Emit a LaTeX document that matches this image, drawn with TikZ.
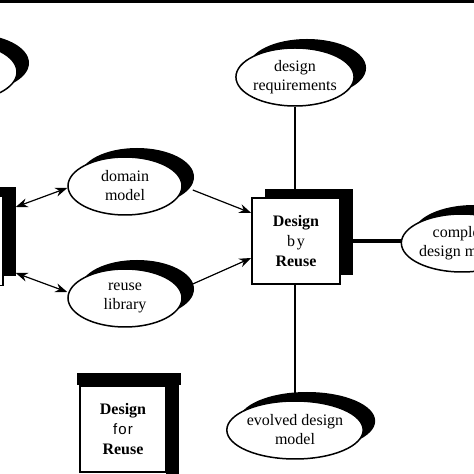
\documentclass[tikz,border=0pt]{standalone}
\usepackage{fontspec}
\setmainfont{Liberation Serif}
\setsansfont{Liberation Sans}
\usetikzlibrary{shapes.geometric, shadows, arrows.meta}

\begin{document}
\begin{tikzpicture}[x=1pt, y=1pt, >={Stealth[length=12pt, width=9pt]},
  oval/.style={ellipse, draw, line width=1.5pt, fill=white, minimum width=114pt, minimum height=58pt, inner sep=0pt, align=center, font=\fontsize{16}{19}\selectfont, drop shadow={shadow xshift=12pt, shadow yshift=9pt, fill=black, opacity=1}},
  block/.style={rectangle, draw, line width=1.5pt, fill=white, minimum width=88pt, minimum height=86pt, inner sep=0pt, align=center, font=\fontsize{16}{20}\selectfont},
  blockshadow/.style={drop shadow={shadow xshift=13pt, shadow yshift=9pt, fill=black, opacity=1}}]
\useasboundingbox (0,0) rectangle (474,474);
\draw[line width=3pt] (0,472.5) -- (474,472.5);

\node[oval] (goal) at (-40,402) {};
\node[block, blockshadow, minimum height=89pt] (analysis) at (-41,233) {};
\node[oval] (dm) at (125,288) {domain\\model};
\node[oval] (rl) at (125,176) {reuse\\library};
\node[oval] (dr) at (295,397) {design\\requirements};
\node[block, blockshadow] (dbr) at (296,233) {\textbf{Design}\\b\kern2pt y\\\textbf{Reuse}};
\node[oval] (cd) at (462,231) {complete\\design model};
\node[oval, minimum width=116pt] (ed) at (295,44) {evolved design\\model};
\node[block, minimum width=86pt] (dfr) at (123,45) {\textbf{Design}\\{\sffamily\fontsize{15}{20}\selectfont f\kern1pt o\kern1pt r}\\\textbf{Reuse}};
% thick top and right edge of the legend box
\fill ([xshift=-2pt]dfr.north west) rectangle ([xshift=14pt,yshift=12pt]dfr.north east);
\fill ([xshift=-1pt]dfr.north east) rectangle ([xshift=12pt,yshift=-4pt]dfr.south east);

\draw[<->, line width=1.2pt] ([xshift=12pt,yshift=34pt]analysis.east) -- ([yshift=-2pt]dm.west);
\draw[<->, line width=1.2pt] ([xshift=12pt,yshift=-32pt]analysis.east) -- ([yshift=6pt]rl.west);
\draw[->, line width=1.2pt] ([xshift=10pt,yshift=-4pt]dm.east) -- ([yshift=28pt]dbr.west);
\draw[->, line width=1.2pt] ([xshift=10pt,yshift=14pt]rl.east) -- ([yshift=-17pt]dbr.west);
\draw[line width=2.5pt] (dr.south) -- (dr.south |- dbr.north);
\draw[line width=2.5pt] (ed.north |- dbr.south) -- (ed.north);
\draw[line width=4.5pt] (dbr.east) -- (dbr.east -| cd.west);
\end{tikzpicture}
\end{document}
